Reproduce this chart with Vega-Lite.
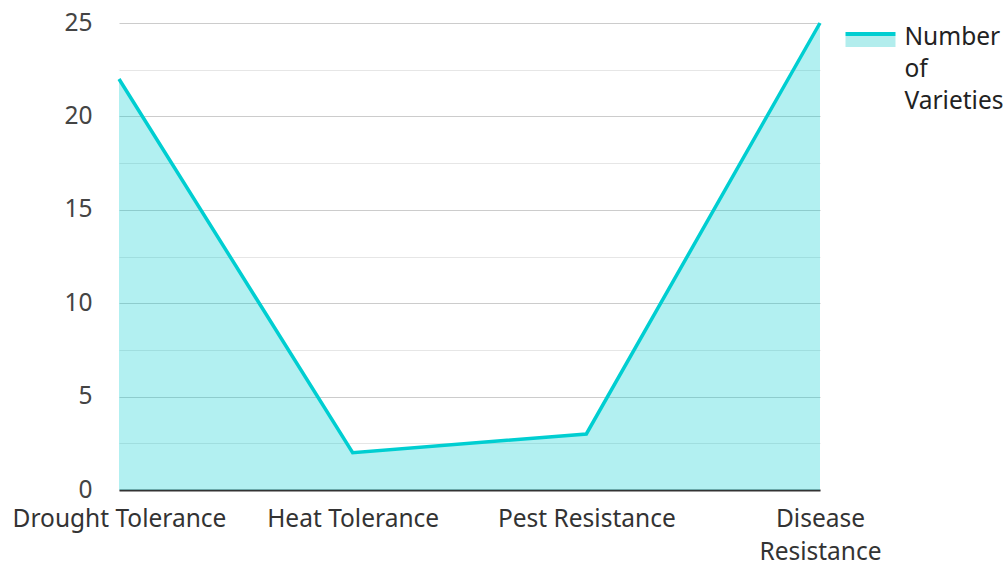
{
  "$schema": "https://vega.github.io/schema/vega-lite/v6.json",
  "width": 701,
  "height": 467,
  "autosize": {"type": "none"},
  "padding": {"left": 119, "top": 23, "right": 187, "bottom": 72},
  "background": "white",
  "config": {
    "font": "Noto Sans",
    "view": {"stroke": null}
  },
  "data": {
    "values": [
      {"trait": "Drought Tolerance", "count": 22, "series": "Number of Varieties"},
      {"trait": "Heat Tolerance", "count": 2, "series": "Number of Varieties"},
      {"trait": "Pest Resistance", "count": 3, "series": "Number of Varieties"},
      {"trait": "Disease Resistance", "count": 25, "series": "Number of Varieties"}
    ]
  },
  "encoding": {
    "x": {
      "field": "trait",
      "type": "nominal",
      "sort": null,
      "scale": {"type": "point", "padding": 0},
      "axis": {
        "title": null,
        "labelAngle": 0,
        "labelFontSize": 24.5,
        "labelColor": "#333333",
        "labelPadding": 17,
        "labelLineHeight": 33,
        "labelLimit": 400,
        "ticks": false,
        "tickSize": 0,
        "domainColor": "#333333",
        "domainWidth": 2,
        "grid": false,
        "labelExpr": "datum.label == 'Disease Resistance' ? ['Disease', 'Resistance'] : datum.label"
      }
    },
    "y": {
      "field": "count",
      "type": "quantitative",
      "scale": {"domain": [0, 25], "nice": false},
      "axis": {
        "title": null,
        "values": [0, 2.5, 5, 7.5, 10, 12.5, 15, 17.5, 20, 22.5, 25],
        "labelExpr": "datum.value % 5 === 0 ? datum.label : ''",
        "labelFontSize": 24.5,
        "labelColor": "#444444",
        "labelPadding": 27,
        "ticks": false,
        "tickSize": 0,
        "domain": false,
        "grid": true,
        "gridColor": {"condition": {"test": "datum.value % 5 === 0", "value": "#cccccc"}, "value": "#e6e6e6"},
        "gridWidth": 1.2
      }
    }
  },
  "layer": [
    {
      "mark": {"type": "area", "opacity": 0.3, "color": "#00CED1"},
      "encoding": {}
    },
    {
      "mark": {"type": "line", "strokeWidth": 3.5},
      "encoding": {
        "color": {
          "field": "series",
          "type": "nominal",
          "scale": {"range": ["#00CED1"]},
          "legend": {
            "title": null,
            "orient": "right",
            "offset": 26.5,
            "padding": 0,
            "symbolType": "M-1.515,-0.455H1.515V0.455H-1.515Z",
            "symbolSize": 1089,
            "symbolStrokeWidth": 0,
            "labelFontSize": 24.5,
            "labelColor": "#222222",
            "labelOffset": 17.5,
            "labelLimit": 200,
            "labelBaseline": "alphabetic",
            "labelExpr": "['Number', 'of', 'Varieties']",
            "encoding": {
              "symbols": {
                "opacity": {"value": 1},
                "fillOpacity": {"value": 1},
                "strokeWidth": {"value": 0},
                "stroke": {"value": "transparent"},
                "fill": {"value": {
                  "gradient": "linear",
                  "x1": 0, "y1": 0, "x2": 0, "y2": 1,
                  "stops": [
                    {"offset": 0, "color": "#00CED1"},
                    {"offset": 0.267, "color": "#00CED1"},
                    {"offset": 0.267, "color": "#b2eded"},
                    {"offset": 1, "color": "#b2eded"}
                  ]
                }}
              },
              "labels": {
                "dy": {"value": 5},
                "lineHeight": {"value": 32}
              }
            }
          }
        }
      }
    }
  ]
}
